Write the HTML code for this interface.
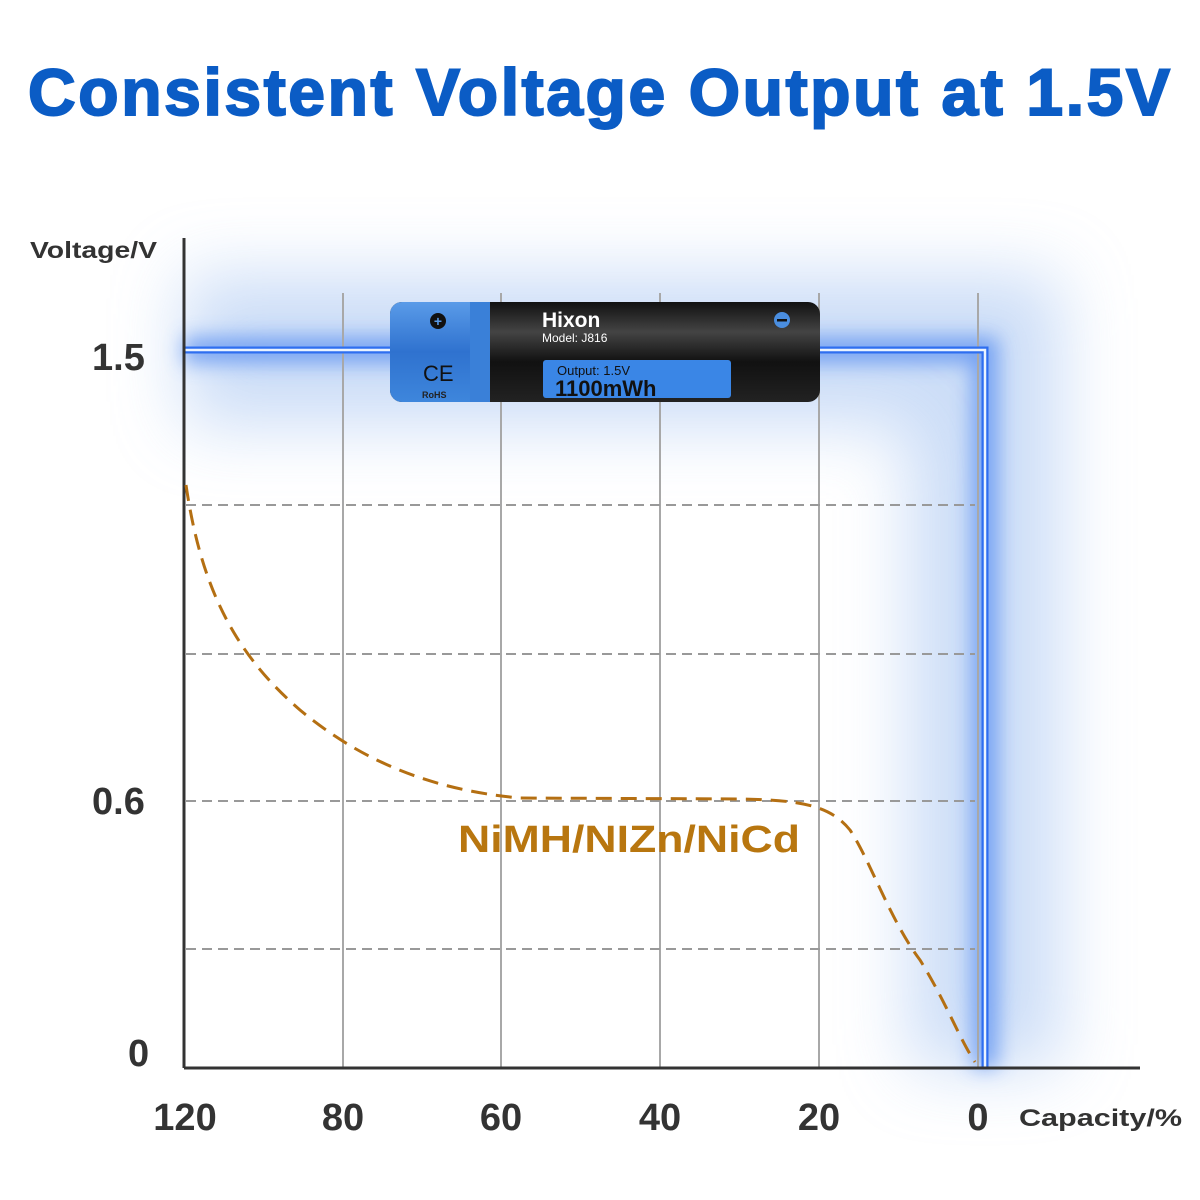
<!DOCTYPE html>
<html><head><style>html,body{margin:0;padding:0;background:#fff}</style></head>
<body>
<svg width="1200" height="1200" xmlns="http://www.w3.org/2000/svg" style="display:block">
<defs>
<filter id="glow" x="-30%" y="-30%" width="160%" height="160%"><feGaussianBlur stdDeviation="35"/></filter>
<filter id="glow2" x="-20%" y="-20%" width="140%" height="140%"><feGaussianBlur stdDeviation="10"/></filter>
<linearGradient id="bat" x1="0" y1="0" x2="0" y2="1"><stop offset="0" stop-color="#111"/><stop offset="0.3" stop-color="#444"/><stop offset="0.6" stop-color="#111"/><stop offset="1" stop-color="#222"/></linearGradient>
<linearGradient id="cap" x1="0" y1="0" x2="0" y2="1"><stop offset="0" stop-color="#5a9be8"/><stop offset="0.5" stop-color="#2f72cf"/><stop offset="1" stop-color="#3e86dc"/></linearGradient>
</defs>
<rect width="1200" height="1200" fill="#fff"/>
<text x="28" y="115" font-family="Liberation Sans, sans-serif" font-weight="bold" font-size="66" fill="#0b5cc5" stroke="#0b5cc5" stroke-width="2" textLength="1142" lengthAdjust="spacing">Consistent Voltage Output at 1.5V</text>

<!-- glow -->
<path d="M184 350 H985 V1068" fill="none" stroke="#a9c6f2" stroke-width="150" opacity="0.6" filter="url(#glow)"/>
<path d="M184 350 H985 V1068" fill="none" stroke="#4f88f0" stroke-width="26" opacity="0.7" filter="url(#glow2)"/>

<!-- grid -->
<g stroke="#a8a8a8" stroke-width="2">
<line x1="343" y1="293" x2="343" y2="1068"/><line x1="501" y1="293" x2="501" y2="1068"/>
<line x1="660" y1="293" x2="660" y2="1068"/><line x1="819" y1="293" x2="819" y2="1068"/>
<line x1="978" y1="293" x2="978" y2="1068"/>
</g>
<g stroke="#999" stroke-width="2" stroke-dasharray="10,6">
<line x1="186" y1="505" x2="975" y2="505"/><line x1="186" y1="654" x2="975" y2="654"/>
<line x1="186" y1="801" x2="975" y2="801"/><line x1="186" y1="949" x2="975" y2="949"/>
</g>

<!-- core line -->
<path d="M184 350 H985 V1068" fill="none" stroke="#2e6ef0" stroke-width="7"/>
<path d="M184 350 H985 V1068" fill="none" stroke="#eaf3ff" stroke-width="2.5"/>

<!-- axes -->
<line x1="184" y1="238" x2="184" y2="1068" stroke="#333" stroke-width="3"/>
<line x1="184" y1="1068" x2="1140" y2="1068" stroke="#333" stroke-width="3"/>

<!-- orange curve -->
<path d="M186 485 C200 580,230 650,300 710 C360 760,430 790,520 798 L740 799 C800 800,830 805,850 830 C870 860,890 920,920 960 C945 1000,960 1040,975 1062" fill="none" stroke="#b46f12" stroke-width="3" stroke-dasharray="16,9"/>
<text x="458" y="852" font-family="Liberation Sans, sans-serif" font-weight="bold" font-size="38" fill="#b8760f" textLength="342" lengthAdjust="spacingAndGlyphs">NiMH/NIZn/NiCd</text>

<!-- battery -->
<rect x="390" y="302" width="430" height="100" rx="12" fill="url(#bat)"/>
<rect x="390" y="302" width="100" height="100" rx="12" fill="url(#cap)"/>
<rect x="470" y="302" width="20" height="100" fill="#3a80d8"/>
<circle cx="438" cy="321" r="8" fill="#111"/><text x="438" y="326" text-anchor="middle" font-family="Liberation Sans" font-size="14" font-weight="bold" fill="#5a9be8">+</text>
<circle cx="782" cy="320" r="8" fill="#4a8ee0"/><rect x="777" y="319" width="10" height="2.5" fill="#111"/>
<text x="423" y="381" font-family="Liberation Sans" font-size="22" fill="#111">CE</text>
<text x="422" y="398" font-family="Liberation Sans" font-weight="bold" font-size="9" fill="#222">RoHS</text>
<text x="542" y="327" font-family="Liberation Sans" font-weight="bold" font-size="21" fill="#fff">Hixon</text>
<text x="542" y="342" font-family="Liberation Sans" font-size="12" fill="#fff">Model: J816</text>
<rect x="543" y="360" width="188" height="38" rx="3" fill="#3a86e6"/>
<text x="557" y="375" font-family="Liberation Sans" font-size="13" fill="#111">Output: 1.5V</text>
<text x="555" y="396" font-family="Liberation Sans" font-weight="bold" font-size="22" fill="#111">1100mWh</text>

<!-- labels -->
<g font-family="Liberation Sans, sans-serif" fill="#333" font-weight="bold">
<text x="30" y="258" font-size="23" textLength="127" lengthAdjust="spacingAndGlyphs">Voltage/V</text>
<text x="92" y="370" font-size="38">1.5</text>
<text x="92" y="814" font-size="38">0.6</text>
<text x="128" y="1066" font-size="38">0</text>
<g font-size="38" text-anchor="middle">
<text x="185" y="1130">120</text><text x="343" y="1130">80</text><text x="501" y="1130">60</text>
<text x="660" y="1130">40</text><text x="819" y="1130">20</text><text x="978" y="1130">0</text>
</g>
<text x="1019" y="1126" font-size="24" textLength="163" lengthAdjust="spacingAndGlyphs">Capacity/%</text>
</g>
</svg>
</body></html>
